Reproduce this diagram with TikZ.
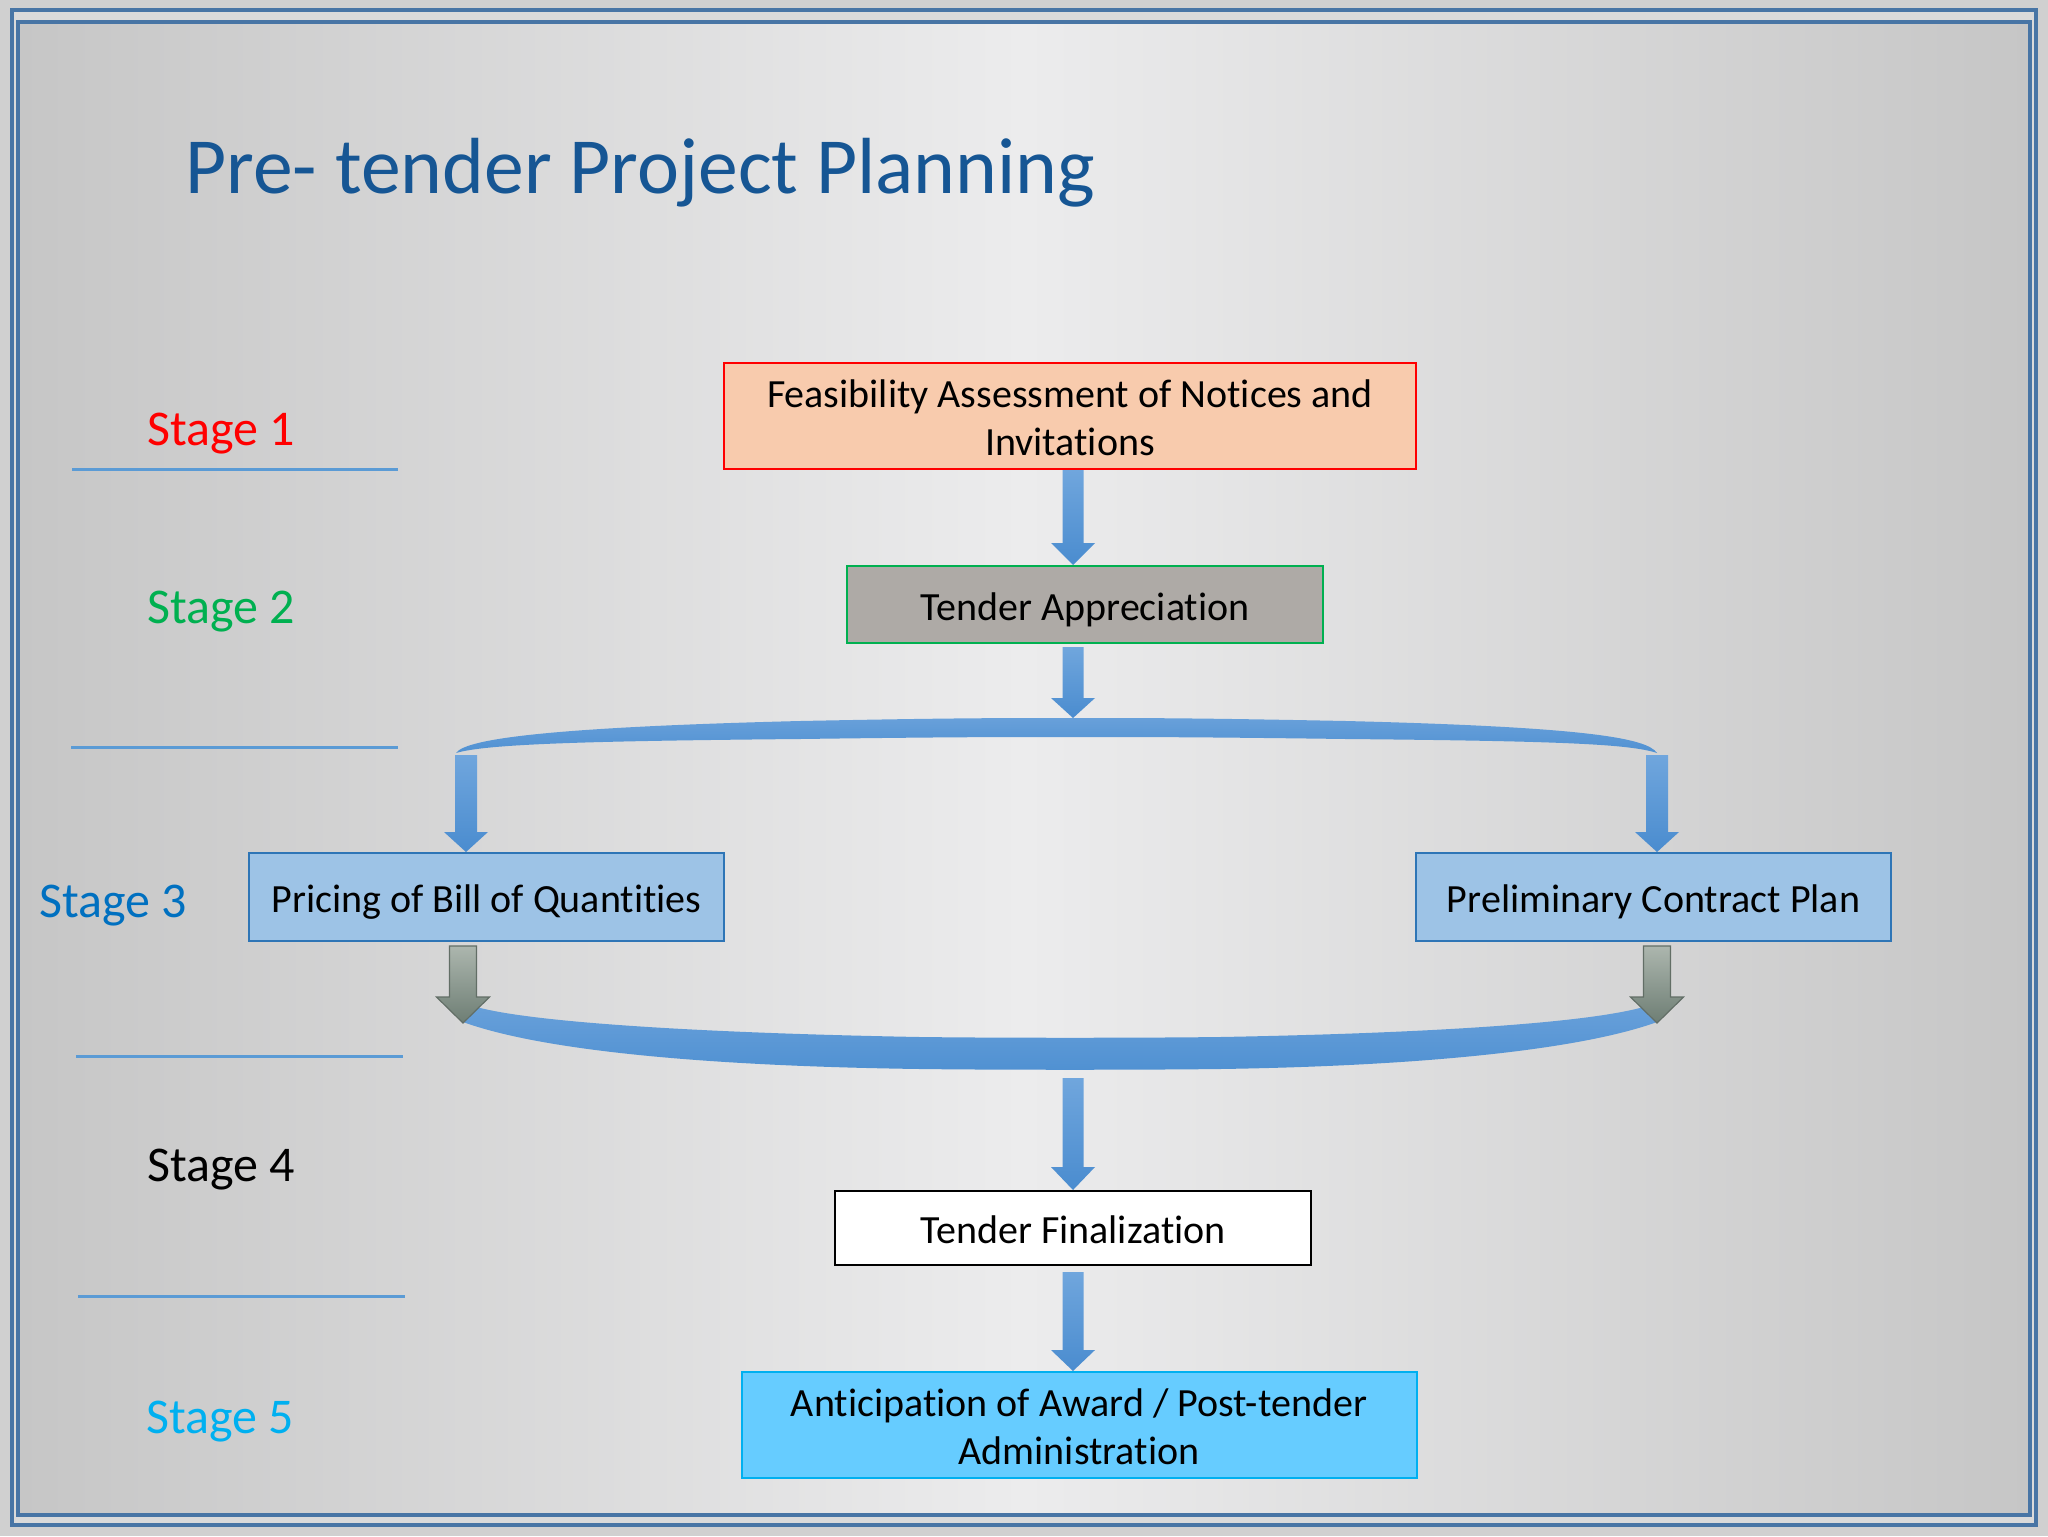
\documentclass[tikz,border=0pt]{standalone}
\usepackage{fontspec}
\setmainfont{Carlito}[Ligatures=NoCommon]
\usetikzlibrary{calc}
\definecolor{framec}{RGB}{72,117,165}
\definecolor{bgedge}{RGB}{198,198,198}
\definecolor{bgmid}{RGB}{236,236,237}
\definecolor{outerbg}{RGB}{208,208,208}
\definecolor{stripe}{RGB}{218,218,218}
\definecolor{titleblue}{RGB}{22,86,148}
\definecolor{linec}{RGB}{91,155,213}
\definecolor{arrowtop}{RGB}{112,166,221}
\definecolor{arrowbot}{RGB}{74,140,207}
\definecolor{arctop}{RGB}{104,160,218}
\definecolor{arcbot}{RGB}{80,145,210}
\definecolor{graytop}{RGB}{172,182,174}
\definecolor{graybot}{RGB}{110,126,116}
\definecolor{grayedge}{RGB}{98,110,102}
\definecolor{peach}{RGB}{248,203,173}
\definecolor{boxgray}{RGB}{174,170,166}
\definecolor{stgreen}{RGB}{0,176,80}
\definecolor{paleblue}{RGB}{157,195,230}
\definecolor{paleblueedge}{RGB}{46,117,182}
\definecolor{cyanfill}{RGB}{102,204,255}
\definecolor{cyanedge}{RGB}{0,176,240}
\definecolor{stblue}{RGB}{0,112,192}
\newcommand\vblock[6]{%
  \path[#6] let \p1=(#1), \p2=(#2) in
    (\x1-#3,\y1) -- (\x1+#3,\y1) -- (\x1+#3,\y2+#5) -- (\x1+#4,\y2+#5)
    -- (\x1,\y2) -- (\x1-#4,\y2+#5) -- (\x1-#3,\y2+#5) -- cycle;}
\tikzset{
  boxnode/.style={draw, line width=1pt, inner sep=0pt, align=center,
    font=\fontsize{20}{24}\selectfont, text height=15.6pt, text depth=0pt},
  twoline/.style={text height=39.6pt, text depth=0pt},
  stagelabel/.style={anchor=base west, inner sep=0pt, font=\fontsize{25}{30}\selectfont},
  stageline/.style={draw=linec, line width=1.5pt},
  bluearrow/.style={shade, top color=arrowtop, bottom color=arrowbot},
  grayarrow/.style={shade, top color=graytop, bottom color=graybot, draw=grayedge, line width=0.6pt},
  arcband/.style={shade, top color=arctop, bottom color=arcbot}
}
\begin{document}
\begin{tikzpicture}[x=0.5pt,y=-0.5pt]
\useasboundingbox (0,0) rectangle (2048,1536);
% background and frame
\fill[outerbg] (0,0) rectangle (2048,1536);
\fill[stripe] (12,10.5) rectangle (2036,1525);
\shade[left color=bgedge, right color=bgedge, middle color=bgmid] (18,22) rectangle (2029.5,1515);
\draw[framec, line width=2pt] (12,10.5) rectangle (2036,1525);
\draw[framec, line width=2pt] (18,22) rectangle (2029.5,1515);

% title
\node[anchor=base west, inner sep=0pt, text=titleblue, font=\fontsize{39.8}{47}\selectfont] (title) at (185,193) {Pre- tender Project Planning};

% stage labels and separators
\node[stagelabel, text=red] (s1) at (147,445) {Stage 1};
\node[stagelabel, text=stgreen] (s2) at (147,623) {Stage 2};
\node[stagelabel, text=stblue] (s3) at (39,917) {Stage 3};
\node[stagelabel, text=black] (s4) at (147,1181) {Stage 4};
\node[stagelabel, text=cyanedge] (s5) at (146,1433) {Stage 5};
\draw[stageline] (72,469) -- (398,469);
\draw[stageline] (71,747) -- (398,747);
\draw[stageline] (76,1056) -- (403,1056);
\draw[stageline] (78,1296) -- (405,1296);

% boxes
\node[boxnode, twoline, draw=red, fill=peach, minimum width=346pt, minimum height=53pt] (feas) at (1070,416)
  {Feasibility Assessment of Notices and\\Invitations};
\node[boxnode, draw=stgreen, fill=boxgray, minimum width=238pt, minimum height=38.5pt] (ta) at (1085,604.5)
  {Tender Appreciation};
\node[boxnode, draw=paleblueedge, fill=paleblue, minimum width=237.5pt, minimum height=44pt] (price) at (486.5,897)
  {Pricing of Bill of Quantities};
\node[boxnode, draw=paleblueedge, fill=paleblue, minimum width=237.5pt, minimum height=44pt] (pcp) at (1653.5,897)
  {Preliminary Contract Plan};
\node[boxnode, draw=black, fill=white, minimum width=238pt, minimum height=37pt] (tf) at (1073,1228)
  {Tender Finalization};
\node[boxnode, twoline, draw=cyanedge, fill=cyanfill, minimum width=337.5pt, minimum height=53pt] (ant) at (1079,1425)
  {Anticipation of Award / Post-tender\\Administration};

% helper coordinates
\coordinate (ax) at (1073,0);
\coordinate (tcen) at (1073,718);
\coordinate (tl) at (466,755);
\coordinate (tr) at (1657,755);
\coordinate (gl) at (463,1023);
\coordinate (gr) at (1657,1023);
\coordinate (bcen) at (1073,1078);

% upper curved band
\path[arcband] (456,753) .. controls (466,738) and (560,727) .. (800,721)
  .. controls (950,718) and (1000,718) .. (1073,718)
  .. controls (1146,718) and (1196,718) .. (1346,721)
  .. controls (1586,727) and (1647,738) .. (1657,753)
  .. controls (1630,744) and (1560,741) .. (1346,739)
  .. controls (1196,737) and (1146,737) .. (1073,737)
  .. controls (1000,737) and (950,737) .. (800,739)
  .. controls (586,741) and (486,744) .. (456,753) -- cycle;

% lower curved band
\path[arcband] (470,1005) .. controls (520,1022) and (700,1033) .. (920,1037)
  .. controls (1000,1038) and (1140,1038) .. (1220,1037)
  .. controls (1440,1033) and (1600,1022) .. (1650,1005)
  -- (1657,1022)
  .. controls (1580,1050) and (1420,1066) .. (1220,1069)
  .. controls (1140,1070) and (1000,1070) .. (920,1069)
  .. controls (700,1066) and (540,1050) .. (463,1022) -- cycle;

% blue block arrows
\vblock{feas.south -| ax}{ta.north -| ax}{5.25pt}{11pt}{11pt}{bluearrow}
\vblock{$(ta.south -| ax)+(0,3)$}{tcen}{5.25pt}{11pt}{10pt}{bluearrow}
\vblock{tl}{price.north -| tl}{5.5pt}{11pt}{10pt}{bluearrow}
\vblock{tr}{pcp.north -| tr}{5.5pt}{11pt}{10pt}{bluearrow}
\vblock{bcen}{tf.north -| ax}{5.25pt}{11pt}{11.5pt}{bluearrow}
\vblock{$(tf.south -| ax)+(0,6)$}{ant.north -| ax}{5.25pt}{11pt}{10.5pt}{bluearrow}

% gray block arrows
\vblock{$(price.south -| gl)+(0,4)$}{gl}{6.75pt}{13.25pt}{13pt}{grayarrow}
\vblock{$(pcp.south -| gr)+(0,4)$}{gr}{6.75pt}{13.25pt}{13pt}{grayarrow}
\end{tikzpicture}
\end{document}
